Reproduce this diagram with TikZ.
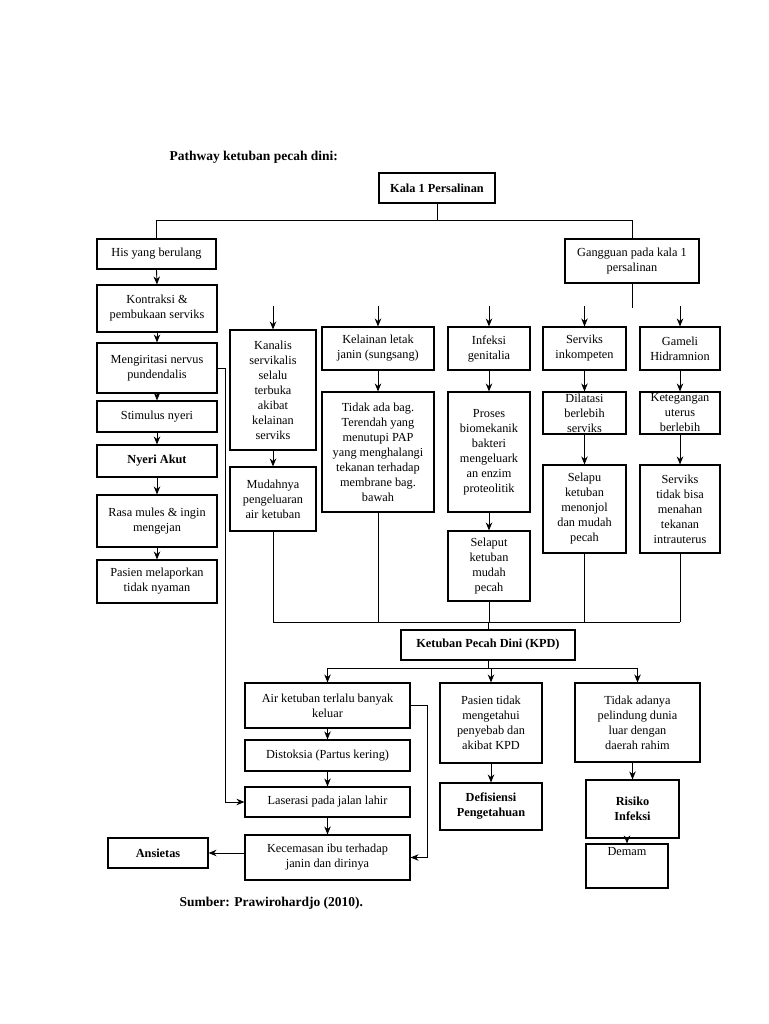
\documentclass[tikz,border=0pt]{standalone}
\usepackage{fontspec}
\setmainfont{Liberation Serif}
\usetikzlibrary{arrows.meta,calc}
\newcommand\bx[7][]{%
  \pgfmathsetmacro\bw{#5-#3}\pgfmathsetmacro\bh{#6-#4}%
  \pgfmathsetmacro\cx{(#3+#5)/2}\pgfmathsetmacro\cy{(#4+#6)/2}%
  \node[box,#1,minimum width=\bw pt,minimum height=\bh pt] (#2) at (\cx,\cy) {#7};}
\begin{document}
\begin{tikzpicture}[x=1pt,y=-1pt,
  box/.style={draw,line width=1.1pt,align=center,inner sep=0pt,font=\fontsize{12.3}{15}\selectfont},
  b/.style={font=\fontsize{12.3}{15}\selectfont\bfseries},
  ln/.style={line width=0.9pt},
  ar/.style={ln,-{Stealth[length=8pt,width=6.5pt]}}]
\useasboundingbox[fill=white] (0,0) rectangle (768,1024);
\node[anchor=west,font=\fontsize{13.5}{16}\selectfont\bfseries] (title) at (166,157) {Pathway ketuban pecah dini:};
\bx[b]{kala}{379}{173}{495}{203}{Kala 1 Persalinan}
\bx{his}{97}{239}{216}{269}{His yang berulang}
\bx{gang}{565}{239}{699}{283}{Gangguan pada kala 1\\persalinan}
\bx{kon}{97}{285}{217}{332}{Kontraksi \&\\pembukaan serviks}
\bx{men}{97}{343}{217}{393}{Mengiritasi nervus\\pundendalis}
\bx{sti}{97}{401}{217}{432}{Stimulus nyeri}
\bx[b]{nye}{97}{445}{217}{477}{Nyeri Akut}
\bx{ras}{97}{495}{217}{547}{Rasa mules \& ingin\\mengejan}
\bx{pas}{97}{560}{217}{603}{Pasien melaporkan\\tidak nyaman}
\bx{kan}{230}{330}{316}{450}{Kanalis\\servikalis\\selalu\\terbuka\\akibat\\kelainan\\serviks}
\bx{mud}{230}{467}{316}{531}{Mudahnya\\pengeluaran\\air ketuban}
\bx{kel}{322}{327}{434}{370}{Kelainan letak\\janin (sungsang)}
\bx{tid}{322}{392}{434}{512}{Tidak ada bag.\\Terendah yang\\menutupi PAP\\yang menghalangi\\tekanan terhadap\\membrane bag.\\bawah}
\bx{inf}{448}{327}{530}{370}{Infeksi\\genitalia}
\bx{pro}{448}{392}{530}{512}{Proses\\biomekanik\\bakteri\\mengeluark\\an enzim\\proteolitik}
\bx{sel}{448}{531}{530}{601}{Selaput\\ketuban\\mudah\\pecah}
\bx{ser}{543}{327}{626}{370}{Serviks\\inkompeten}
\bx{dil}{543}{392}{626}{434}{Dilatasi\\berlebih\\serviks}
\bx{slp}{543}{465}{626}{553}{Selapu\\ketuban\\menonjol\\dan mudah\\pecah}
\bx{gam}{640}{327}{720}{370}{Gameli\\Hidramnion}
\bx{ket}{640}{392}{720}{434}{Ketegangan\\uterus\\berlebih}
\bx{stb}{640}{465}{720}{553}{Serviks\\tidak bisa\\menahan\\tekanan\\intrauterus}
\bx[b]{kpd}{401}{630}{575}{660}{Ketuban Pecah Dini (KPD)}
\bx{air}{245}{683}{410}{728}{Air ketuban terlalu banyak\\keluar}
\bx{dis}{245}{740}{410}{771}{Distoksia (Partus kering)}
\bx{las}{245}{787}{410}{817}{Laserasi pada jalan lahir}
\bx{kec}{245}{835}{410}{880}{Kecemasan ibu terhadap\\janin dan dirinya}
\bx[b]{ans}{108}{838}{208}{868}{Ansietas}
\bx{pti}{440}{683}{542}{763}{Pasien tidak\\mengetahui\\penyebab dan\\akibat KPD}
\bx[b]{def}{440}{783}{542}{830}{Defisiensi\\Pengetahuan}
\bx{tad}{575}{683}{700}{762}{Tidak adanya\\pelindung dunia\\luar dengan\\daerah rahim}
\bx[b]{ris}{586}{780}{679}{838}{Risiko\\Infeksi}
\bx{dem}{586}{844}{668}{888}{Demam\\[14pt]}
\node[anchor=west,font=\fontsize{13.5}{16}\selectfont\bfseries] (src) at (176,903) {Sumber: Prawirohardjo (2010).};
% top connectors
\draw[ln] (kala.south) -- (kala.south|-0,220) -- (his.north|-0,220) -- (his.north);
\draw[ln] (kala.south|-0,220) -- (gang.north|-0,220) -- (gang.north);
\coordinate (g2) at ($(gang.south)+(0,24)$);
\draw[ln] (gang.south) -- (g2);
\foreach \p/\q in {his/kon,kon/men,men/sti,sti/nye,nye/ras,ras/pas,kan/mud,kel/tid,inf/pro,pro/sel,ser/dil,dil/slp,gam/ket,ket/stb,pti/def,air/dis,dis/las,las/kec}
  {\draw[ar] (\p.south) -- (\q.north);}
\draw[ar] (tad.south-|ris.north) -- (ris.north);
\draw[ar] (ris.south-|dem.north) -- (dem.north);
\foreach \n in {kel,inf,ser,gam}{
  \coordinate (u\n) at ($(\n.north)+(0,-20)$);
  \draw[ar] (u\n) -- (\n.north);}
\coordinate (ukan) at ($(kan.north)+(0,-23)$);
\draw[ar] (ukan) -- (kan.north);
% collect to KPD
\coordinate (hl) at (0,622);
\foreach \n in {mud,tid,sel,slp,stb}{\draw[ln] (\n.south) -- (\n.south|-hl);}
\draw[ln] (mud.south|-hl) -- (stb.south|-hl);
\draw[ln] (kpd.north|-hl) -- (kpd.north);
% KPD branches
\coordinate (kb) at (0,668);
\draw[ln] (kpd.south) -- (kpd.south|-kb);
\draw[ln] (air.north|-kb) -- (tad.north|-kb);
\foreach \n in {air,pti,tad}{\draw[ar] (\n.north|-kb) -- (\n.north);}
% side lines
\draw[ar] (men.east) -- ++(8,0) |- (las.west);
\draw[ar] (air.east) -- ++(17,0) |- (kec.east);
\draw[ar] (kec.west|-ans.east) -- (ans.east);
\end{tikzpicture}
\end{document}
